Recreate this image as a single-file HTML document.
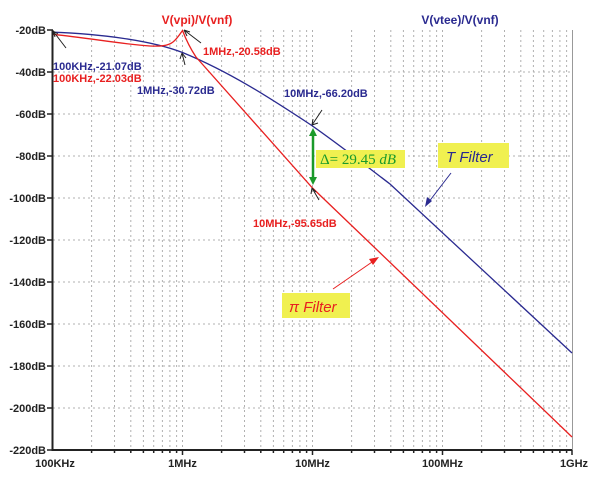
<!DOCTYPE html>
<html><head><meta charset="utf-8"><style>
body{margin:0;background:#fff;}
svg{display:block;font-family:"Liberation Sans",Arial,sans-serif;}
</style></head><body>
<svg width="600" height="480" xmlns="http://www.w3.org/2000/svg">
<rect width="600" height="480" fill="#fff"/>
<g stroke="#b0b0b0" stroke-dasharray="2,3" stroke-width="1">
<path d="M53,72H572M53,114H572M53,156H572M53,198H572M53,240H572M53,282H572M53,324H572M53,366H572M53,408H572"/>
<path d="M91.6,30V450M114.5,30V450M130.8,30V450M143.4,30V450M153.7,30V450M162.4,30V450M169.9,30V450M176.6,30V450M182.5,30V450
M221.6,30V450M244.5,30V450M260.8,30V450M273.4,30V450M283.7,30V450M292.4,30V450M299.9,30V450M306.6,30V450M312.5,30V450
M351.6,30V450M374.5,30V450M390.8,30V450M403.4,30V450M413.7,30V450M422.4,30V450M429.9,30V450M436.6,30V450M442.5,30V450
M481.6,30V450M504.5,30V450M520.8,30V450M533.4,30V450M543.7,30V450M552.4,30V450M559.9,30V450M566.6,30V450"/>
</g>
<line x1="572.5" y1="30" x2="572.5" y2="450" stroke="#999" stroke-width="1"/>
<path d="M52.5,32.2 C100,34 150,40 182.5,52.5 C230,72 270,98 312.5,126 C345,149 365,165 390,184 L572,353" fill="none" stroke="#2a2a90" stroke-width="1.3"/>
<path d="M52.5,34.3 C90,38 120,44 150,46 C160,46.5 168,46 173,42 C177,39 180,34 182.5,30.5 C185,37 190,48 196,57 L312.5,188 L572,437" fill="none" stroke="#e82020" stroke-width="1.3"/>
<line x1="52.5" y1="30" x2="52.5" y2="451" stroke="#222" stroke-width="2"/>
<line x1="51.5" y1="450" x2="572" y2="450" stroke="#222" stroke-width="2"/>
<g stroke="#222" stroke-width="1.5">
<path d="M47,30H53M47,72H53M47,114H53M47,156H53M47,198H53M47,240H53M47,282H53M47,324H53M47,366H53M47,408H53M47,450H53"/>
<path d="M91.6,450v3M114.5,450v3M130.8,450v3M143.4,450v3M153.7,450v3M162.4,450v3M169.9,450v3M176.6,450v3M182.5,450v5
M221.6,450v3M244.5,450v3M260.8,450v3M273.4,450v3M283.7,450v3M292.4,450v3M299.9,450v3M306.6,450v3M312.5,450v5
M351.6,450v3M374.5,450v3M390.8,450v3M403.4,450v3M413.7,450v3M422.4,450v3M429.9,450v3M436.6,450v3M442.5,450v5
M481.6,450v3M504.5,450v3M520.8,450v3M533.4,450v3M543.7,450v3M552.4,450v3M559.9,450v3M566.6,450v3M572,450v5"/>
</g>
<g font-size="11" font-weight="bold" fill="#222" text-anchor="end">
<text x="46" y="34">-20dB</text><text x="46" y="76">-40dB</text><text x="46" y="118">-60dB</text><text x="46" y="160">-80dB</text>
<text x="46" y="202">-100dB</text><text x="46" y="244">-120dB</text><text x="46" y="286">-140dB</text><text x="46" y="328">-160dB</text>
<text x="46" y="370">-180dB</text><text x="46" y="412">-200dB</text><text x="46" y="454">-220dB</text>
</g>
<g font-size="11" font-weight="bold" fill="#222" text-anchor="middle">
<text x="55" y="467">100KHz</text><text x="182.5" y="467">1MHz</text><text x="312.5" y="467">10MHz</text><text x="442.5" y="467">100MHz</text><text x="574" y="467">1GHz</text>
</g>
<text x="197" y="24" font-size="12" font-weight="bold" fill="#e82020" text-anchor="middle">V(vpi)/V(vnf)</text>
<text x="460" y="24" font-size="12" font-weight="bold" fill="#2a2a90" text-anchor="middle">V(vtee)/V(vnf)</text>
<g font-size="11" font-weight="bold">
<text x="53" y="70" fill="#2a2a90">100KHz,-21.07dB</text>
<text x="53" y="82" fill="#e82020">100KHz,-22.03dB</text>
<text x="137" y="94" fill="#2a2a90">1MHz,-30.72dB</text>
<text x="203" y="55" fill="#e82020">1MHz,-20.58dB</text>
<text x="284" y="97" fill="#2a2a90">10MHz,-66.20dB</text>
<text x="253" y="227" fill="#e82020">10MHz,-95.65dB</text>
</g>
<g stroke="#222" stroke-width="1" fill="none">
<path d="M53,31 L66,48 M53,31 L55,37 M53,31 L58,34"/>
<path d="M182,53 L185,65 M182,53 L180,59 M182,53 L186,58"/>
<path d="M184,30 L201,43 M184,30 L187,36 M184,30 L190,32"/>
<path d="M312,125 L322,110 M312,125 L318,123 M312,125 L313,119"/>
<path d="M312,188 L319,200 M312,188 L311,194 M312,188 L316,192"/>
</g>
<g stroke="#1a9a2a" stroke-width="2.5" fill="#1a9a2a">
<line x1="313" y1="133" x2="313" y2="180"/>
<path d="M309,136 L313,128 L317,136Z" stroke-width="0"/>
<path d="M309,177 L313,185 L317,177Z" stroke-width="0"/>
</g>
<rect x="316" y="150" width="89" height="18" fill="#f0f050"/>
<text x="320" y="164" font-family="Liberation Serif,serif" font-size="15" fill="#1a9a2a">Δ= 29.45 <tspan font-style="italic">dB</tspan></text>
<rect x="438" y="143" width="71" height="25" fill="#f0f050"/>
<text x="446" y="162" font-size="15" font-style="italic" fill="#2a2a90">T Filter</text>
<rect x="282" y="293" width="68" height="25" fill="#f0f050"/>
<text x="289" y="312" font-size="15" font-style="italic" fill="#e82020">π Filter</text>
<line x1="451" y1="173" x2="428" y2="203" stroke="#2a2a90"/>
<path d="M425,207 L427,197 L432,201Z" fill="#2a2a90"/>
<line x1="333" y1="289" x2="375" y2="260" stroke="#e82020"/>
<path d="M379,257 L369,259 L373,265Z" fill="#e82020"/>
</svg>
</body></html>
